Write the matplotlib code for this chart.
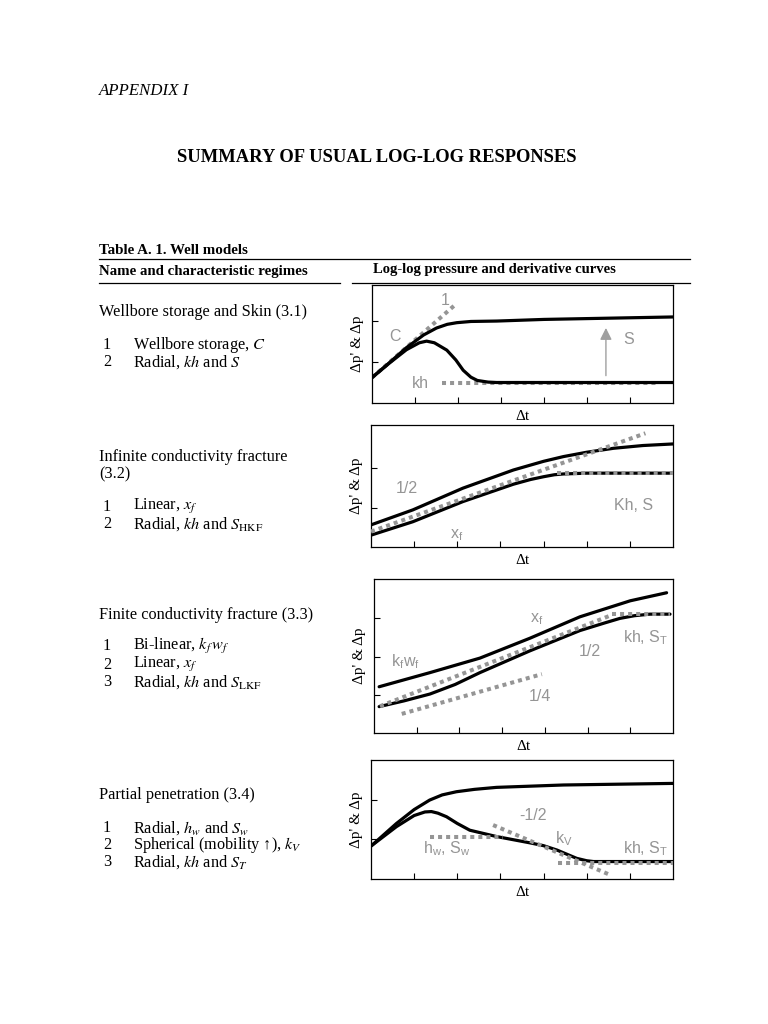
import numpy as np
import matplotlib.pyplot as plt

plt.rcParams['font.family'] = ['Liberation Serif', 'DejaVu Serif']
plt.rcParams['mathtext.fontset'] = 'stix'

W, H = 768, 1024
GRAY = '#959595'

# ---- panel 1 : wellbore storage and skin (x in log cycles, y in log cycles)
p1_t_p = [0.0, 0.4, 0.8, 1.2, 1.5, 1.75, 1.97, 2.3, 2.9, 4.0, 5.5, 7.0]
p1_p = [0.62, 0.98, 1.35, 1.66, 1.83, 1.92, 1.96, 1.99, 2.00, 2.04, 2.07, 2.10]
p1_t_d = [0.0, 0.4, 0.8, 1.1, 1.27, 1.45, 1.74, 1.95, 2.12, 2.3, 2.45, 2.7, 2.9, 7.0]
p1_d = [0.62, 0.97, 1.30, 1.47, 1.51, 1.47, 1.29, 1.05, 0.80, 0.63, 0.55, 0.51, 0.50, 0.50]
p1_unit_t = [0.0, 1.97]
p1_unit = [0.62, 2.43]
p1_kh_t = [1.62, 6.62]
p1_kh = [0.48, 0.48]
p1_arrow = [5.44, 0.60, 5.44, 1.90]

# ---- panel 2 : infinite conductivity fracture
p2_t_p = [0.0, 0.97, 2.13, 3.3, 4.0, 4.46, 5.0, 5.62, 6.3, 7.0]
p2_p = [0.56, 0.94, 1.49, 1.95, 2.17, 2.29, 2.40, 2.50, 2.57, 2.61]
p2_t_d = [0.0, 0.97, 2.13, 3.3, 3.7, 4.0, 4.25, 4.46, 5.0, 7.0]
p2_d = [0.30, 0.64, 1.15, 1.59, 1.71, 1.78, 1.83, 1.85, 1.87, 1.87]
p2_half_t = [0.0, 6.36]
p2_half = [0.39, 2.88]
p2_flat_t = [4.3, 7.0]
p2_flat = [1.87, 1.87]

# ---- panel 3 : finite conductivity fracture
p3_t_p = [0.12, 1.31, 2.48, 3.65, 4.82, 6.0, 6.85]
p3_p = [1.21, 1.58, 1.96, 2.48, 3.04, 3.46, 3.67]
p3_t_d = [0.12, 0.7, 1.31, 1.9, 2.48, 3.65, 4.82, 5.4, 5.76, 6.1, 6.46, 6.93]
p3_d = [0.69, 0.84, 1.02, 1.27, 1.58, 2.15, 2.68, 2.88, 3.00, 3.07, 3.11, 3.11]
p3_quarter_t = [0.65, 3.93]
p3_quarter = [0.50, 1.54]
p3_half_t = [0.14, 5.57]
p3_half = [0.70, 3.09]
p3_flat_t = [5.57, 6.93]
p3_flat = [3.11, 3.11]

# ---- panel 4 : partial penetration
p4_t_p = [0.0, 0.59, 1.0, 1.36, 1.65, 1.98, 2.4, 2.91, 4.46, 7.0]
p4_p = [0.83, 1.40, 1.75, 1.99, 2.12, 2.20, 2.26, 2.31, 2.37, 2.41]
p4_t_d = [0.0, 0.59, 1.0, 1.25, 1.4, 1.55, 1.75, 2.0, 2.29, 2.91, 3.69, 4.0, 4.31, 4.55, 4.77, 5.0, 5.16, 7.0]
p4_d = [0.83, 1.32, 1.60, 1.69, 1.70, 1.66, 1.57, 1.40, 1.23, 1.07, 0.91, 0.84, 0.73, 0.62, 0.52, 0.46, 0.44, 0.44]
p4_hw_t = [1.36, 3.07]
p4_hw = [1.07, 1.07]
p4_sph_t = [2.83, 5.55]
p4_sph = [1.36, 0.10]
p4_kh_t = [4.34, 7.0]
p4_kh = [0.41, 0.41]

# panel boxes in pixels: left, top, right, bottom ; y range
boxes = [(372, 285, 673, 403, 2.88),
         (371, 425, 673, 547, 3.09),
         (374, 579, 673, 733, 4.03),
         (371, 760, 673, 879, 3.0)]

fig = plt.figure(figsize=(W / 100, H / 100), dpi=100)


def ftext(x, y, s, **kw):
    fig.text(x / W, 1 - y / H, s, **kw)


def panel(i):
    l, t, r, b, ytop = boxes[i]
    ax = fig.add_axes([l / W, 1 - b / H, (r - l) / W, (b - t) / H])
    ax.set_xlim(0, 7)
    ax.set_ylim(0, ytop)
    ax.set_xticks(range(1, 7))
    if ytop < 3.5:
        ax.set_yticks([1, 2])
    else:
        ax.set_yticks([1, 2, 3])
    ax.tick_params(direction='in', length=4, width=0.8, labelbottom=False, labelleft=False)
    for sp in ax.spines.values():
        sp.set_linewidth(0.9)
    ax.set_xlabel('Δt', fontsize=11, labelpad=5)
    ax.set_ylabel("Δp' & Δp", fontsize=11, labelpad=6)
    return ax


def black(ax, x, y):
    ax.plot(x, y, color='black', lw=2.3, solid_capstyle='round', solid_joinstyle='round', zorder=3)


def dots(ax, x, y, z=2):
    ax.plot(x, y, color=GRAY, lw=2.9, ls=(0, (1, 1)), dash_capstyle='butt', zorder=z)


def glabel(ax, x, y, s):
    ax.text(x, y, s, color=GRAY, fontsize=11.5, family='Liberation Sans', ha='center', va='center')


# panel 1
ax = panel(0)
dots(ax, p1_unit_t, p1_unit)
dots(ax, p1_kh_t, p1_kh)
black(ax, p1_t_p, p1_p)
black(ax, p1_t_d, p1_d)
ax.annotate('', xy=(p1_arrow[2], p1_arrow[3]), xytext=(p1_arrow[0], p1_arrow[1]),
            arrowprops=dict(arrowstyle='-|>,head_width=0.35,head_length=0.7', color='#a0a0a0', lw=1.0))
glabel(ax, 1.70, 2.51, '1')
glabel(ax, 0.53, 1.62, 'C')
glabel(ax, 1.12, 0.48, 'kh')
glabel(ax, 5.96, 1.54, 'S')

# panel 2
ax = panel(1)
black(ax, p2_t_p, p2_p)
black(ax, p2_t_d, p2_d)
dots(ax, p2_half_t, p2_half, 4)
dots(ax, p2_flat_t, p2_flat, 4)
glabel(ax, 0.82, 1.49, '1/2')
glabel(ax, 6.09, 1.06, 'Kh, S')
glabel(ax, 1.98, 0.30, r'x$_\mathregular{f}$')

# panel 3
ax = panel(2)
black(ax, p3_t_p, p3_p)
black(ax, p3_t_d, p3_d)
dots(ax, p3_quarter_t, p3_quarter, 4)
dots(ax, p3_half_t, p3_half, 4)
dots(ax, p3_flat_t, p3_flat, 4)
glabel(ax, 3.81, 2.96, r'x$_\mathregular{f}$')
glabel(ax, 0.73, 1.87, r'k$_\mathregular{f}$w$_\mathregular{f}$')
glabel(ax, 6.35, 2.48, r'kh, S$_\mathregular{T}$')
glabel(ax, 5.06, 2.13, '1/2')
glabel(ax, 3.89, 0.95, '1/4')

# panel 4
ax = panel(3)
black(ax, p4_t_p, p4_p)
black(ax, p4_t_d, p4_d)
dots(ax, p4_hw_t, p4_hw, 4)
dots(ax, p4_sph_t, p4_sph, 4)
dots(ax, p4_kh_t, p4_kh, 4)
glabel(ax, 3.76, 1.61, '-1/2')
glabel(ax, 1.75, 0.75, r'h$_\mathregular{w}$, S$_\mathregular{w}$')
glabel(ax, 4.46, 1.00, r'k$_\mathregular{V}$')
glabel(ax, 6.36, 0.75, r'kh, S$_\mathregular{T}$')

# ---- page text
ftext(99, 91, 'APPENDIX I', fontsize=12.2, style='italic', va='center')
ftext(377, 158, 'SUMMARY OF USUAL LOG-LOG RESPONSES', fontsize=13.3, weight='bold',
      ha='center', va='center')
ftext(99, 250, 'Table A. 1. Well models', fontsize=10.8, weight='bold', va='center')
ftext(99, 272, 'Name and characteristic regimes', fontsize=10.7, weight='bold', va='center')
ftext(373, 270, 'Log-log pressure and derivative curves', fontsize=10.5, weight='bold', va='center')
fig.add_artist(plt.Line2D([99 / W, 690 / W], [1 - 259 / H, 1 - 259 / H], color='black', lw=0.9))
fig.add_artist(plt.Line2D([99 / W, 340 / W], [1 - 283 / H, 1 - 283 / H], color='black', lw=0.9))
fig.add_artist(plt.Line2D([352 / W, 690 / W], [1 - 283 / H, 1 - 283 / H], color='black', lw=0.9))

fs = 11.7
ftext(99, 312, 'Wellbore storage and Skin (3.1)', fontsize=fs, va='center')
ftext(103, 345, '1', fontsize=fs, va='center')
ftext(133, 345, 'Wellbore storage, $C$', fontsize=fs, va='center')
ftext(103, 362, '2', fontsize=fs, va='center')
ftext(133, 362, 'Radial, $kh$ and $S$', fontsize=fs, va='center')

ftext(99, 457, 'Infinite conductivity fracture', fontsize=fs, va='center')
ftext(99, 474, '(3.2)', fontsize=fs, va='center')
ftext(103, 507, '1', fontsize=fs, va='center')
ftext(133, 507, 'Linear, $x_f$', fontsize=fs, va='center')
ftext(103, 524, '2', fontsize=fs, va='center')
ftext(133, 524, r'Radial, $kh$ and $S_{\mathrm{HKF}}$', fontsize=fs, va='center')

ftext(99, 615, 'Finite conductivity fracture (3.3)', fontsize=fs, va='center')
ftext(103, 646, '1', fontsize=fs, va='center')
ftext(133, 646, r'Bi-linear, $k_f\,w_f$', fontsize=fs, va='center')
ftext(103, 665, '2', fontsize=fs, va='center')
ftext(133, 665, 'Linear, $x_f$', fontsize=fs, va='center')
ftext(103, 682, '3', fontsize=fs, va='center')
ftext(133, 682, r'Radial, $kh$ and $S_{\mathrm{LKF}}$', fontsize=fs, va='center')

ftext(99, 795, 'Partial penetration (3.4)', fontsize=fs, va='center')
ftext(103, 828, '1', fontsize=fs, va='center')
ftext(133, 828, 'Radial, $h_w$ and $S_w$', fontsize=fs, va='center')
ftext(103, 845, '2', fontsize=fs, va='center')
ftext(133, 845, 'Spherical (mobility \u2191), $k_V$', fontsize=fs, va='center')
ftext(103, 862, '3', fontsize=fs, va='center')
ftext(133, 862, 'Radial, $kh$ and $S_T$', fontsize=fs, va='center')

fig.savefig('out.png', dpi=100)
